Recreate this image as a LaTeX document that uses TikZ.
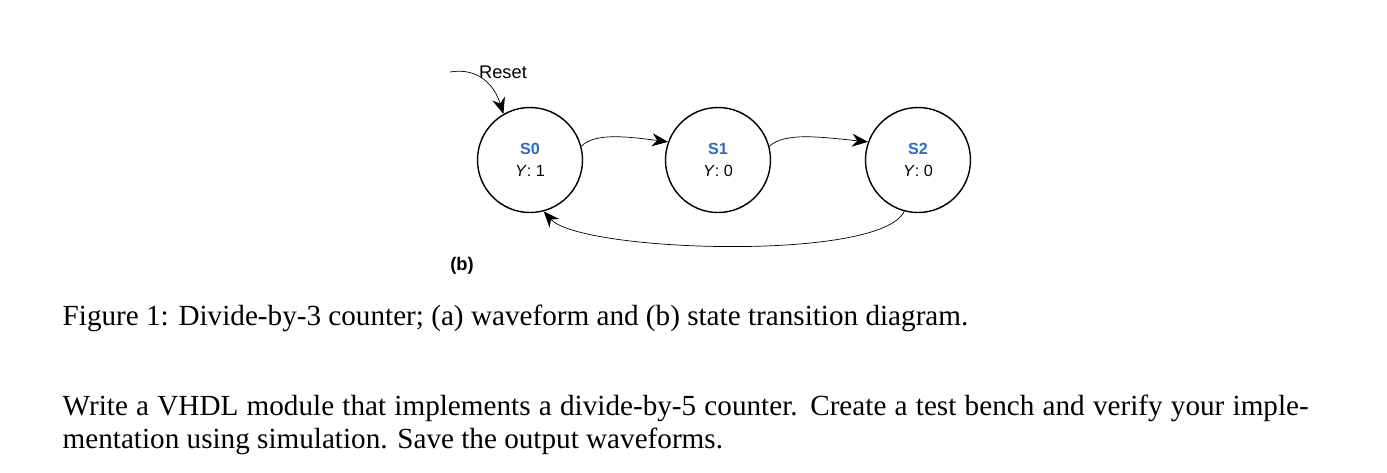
\documentclass[tikz,border=0pt]{standalone}
\usepackage{fontspec}
\setmainfont{Liberation Serif}
\newfontfamily\diagfont{Liberation Sans}
\usetikzlibrary{arrows.meta}
\tikzset{
  state/.style={circle, draw, thin, minimum size=1.05cm, inner sep=0pt, align=center, font=\diagfont\fontsize{4.6}{5.6}\selectfont},
  trans/.style={-{Stealth[length=1.6mm,width=1.3mm]}, very thin},
}
\definecolor{statename}{RGB}{40,110,200}
\begin{document}
\begin{tikzpicture}
\useasboundingbox (0,0) rectangle (13.87,4.72);

\node[state] (s0) at (5.30,3.12) {\textbf{\color{statename}S0}\\[0.3ex] \textit{Y}: 1};
\node[state] (s1) at (7.18,3.12) {\textbf{\color{statename}S1}\\[0.3ex] \textit{Y}: 0};
\node[state] (s2) at (9.18,3.12) {\textbf{\color{statename}S2}\\[0.3ex] \textit{Y}: 0};

\coordinate (rst) at (4.50,4.00);
\node[font=\diagfont\fontsize{5.2}{6}\selectfont] (lbl) at (5.03,4.00) {Reset};
\draw[trans] (rst) .. controls (4.80,4.05) and (4.95,3.85) .. (s0.120);

\draw[trans] (s0.15) .. controls (5.95,3.40) and (6.30,3.35) .. (s1.160);
\draw[trans] (s1.15) .. controls (7.85,3.40) and (8.20,3.35) .. (s2.160);
\draw[trans] (s2.-105) .. controls (8.80,2.10) and (5.80,2.20) .. (s0.-75);

\node[font=\diagfont\bfseries\fontsize{5.2}{6}\selectfont] (b) at (4.62,2.06) {(b)};

\node[anchor=west, font=\fontsize{8.3}{10}\selectfont, inner sep=0pt] (cap) at (0.62,1.54)
  {Figure 1: Divide-by-3 counter; (a) waveform and (b) state transition diagram.};

\node[anchor=north west, text width=12.46cm, align=justify, inner sep=0pt,
  font=\fontsize{8.3}{9.4}\selectfont] (txt) at (0.62,0.78)
  {Write a VHDL module that implements a divide-by-5 counter. Create a test bench and verify your implementation using simulation. Save the output waveforms.};
\end{tikzpicture}
\end{document}
